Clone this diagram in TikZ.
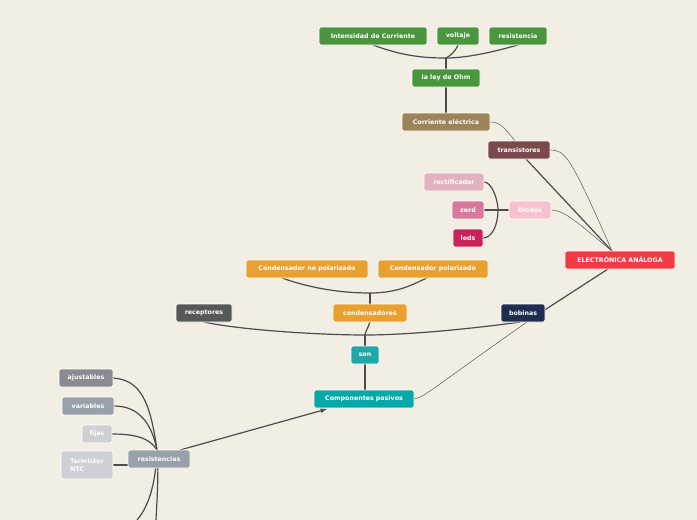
\documentclass[tikz,border=0pt]{standalone}
\usepackage{fontspec}
\setmainfont{DejaVu Sans}
\begin{document}
\begin{tikzpicture}[x=1pt,y=-1pt,
 box/.style={rounded corners=2pt,draw=white,line width=0.8pt,text=white,font=\bfseries\fontsize{6.3}{7.5}\selectfont,minimum height=18pt,inner xsep=3pt,anchor=center},
 ln/.style={draw=black!70,line width=1.2pt},
 tn/.style={draw=black!65,line width=0.5pt}]
\fill[fill={rgb,255:red,243;green,238;blue,227}] (0,0) rectangle (697,520);
\useasboundingbox (0,0) rectangle (697,520);
\definecolor{gr}{RGB}{74,150,62}
\def\B#1#2#3#4#5{\node[box,fill=#4,minimum width=#3] (#1) at #2 {#5};}
\coordinate (j1) at (446,58);
\coordinate (j2) at (498,210);
\coordinate (ea1) at (612,251);
\coordinate (j3) at (370,293);
\coordinate (j4) at (365,335);
\coordinate (jr) at (157,450);
\draw[ln] (373,45) .. controls (400,55) and (420,58) .. (j1) .. controls (470,58) and (500,50) .. (518,45);
\draw[ln] (458,45) .. controls (455,52) and (450,56) .. (j1);
\draw[ln] (j1) -- (446,78);
\draw[ln] (446,78) -- (446,122);
\draw[tn] (490,122) .. controls (500,122) and (505,128) .. (515,141);
\draw[ln] (484,182) .. controls (492,182) and (498,200) .. (j2) .. controls (498,225) and (492,238) .. (483,238);
\draw[ln] (484,210) -- (509,210);
\draw[ln] (526,159) -- (ea1);
\draw[tn] (550,150) .. controls (565,150) and (570,155) .. (ea1);
\draw[tn] (551,210) .. controls (565,210) and (580,225) .. (ea1);
\draw[ln] (540,313) -- (608,269);
\draw[ln] (282,278) .. controls (310,288) and (340,293) .. (j3) .. controls (400,293) and (415,283) .. (427,278);
\draw[ln] (j3) -- (370,313);
\draw[ln] (204,322) .. controls (240,330) and (320,335) .. (j4) .. controls (420,335) and (500,325) .. (520,322);
\draw[ln] (370,322) .. controls (368,328) and (365,332) .. (j4);
\draw[ln] (j4) -- (365,355) -- (365,399);
\draw[tn] (414,399) .. controls (425,397) and (430,390) .. (527,322);
\draw[ln,-latex] (180,450) -- (327,409);
\draw[ln] (113,378) .. controls (140,380) and (150,400) .. (jr);
\draw[ln] (114,406) .. controls (140,406) and (152,425) .. (jr);
\draw[ln] (112,434) .. controls (135,434) and (150,438) .. (jr);
\draw[ln] (113,465) -- (130,465);
\draw[ln] (jr) .. controls (159,470) and (157,500) .. (156,520);
\draw[ln] (jr) .. controls (156,480) and (150,505) .. (137,520);
\B{ic}{(373,36)}{108pt}{gr}{Intensidad de Corriente}
\B{vo}{(458,36)}{42pt}{gr}{voltaje}
\B{re}{(518,36)}{58pt}{gr}{resistencia}
\B{ohm}{(446,78)}{68pt}{gr}{la ley de Ohm}
\B{ce}{(446,122)}{88pt}{{rgb,255:red,156;green,131;blue,88}}{Corriente eléctrica}
\B{tr}{(519,150)}{62pt}{{rgb,255:red,122;green,74;blue,74}}{transistores}
\B{rect}{(454,182)}{60pt}{{rgb,255:red,226;green,178;blue,190}}{rectificador}
\B{ze}{(468,210)}{32pt}{{rgb,255:red,216;green,120;blue,156}}{zerd}
\B{le}{(468,238)}{30pt}{{rgb,255:red,200;green,36;blue,90}}{leds}
\B{di}{(530,210)}{42pt}{{rgb,255:red,246;green,194;blue,207}}{Diodos}
\B{ea}{(620,260)}{110pt}{{rgb,255:red,244;green,58;blue,68}}{ELECTRÓNICA ANÁLOGA}
\B{cnp}{(307,269)}{122pt}{{rgb,255:red,232;green,160;blue,48}}{Condensador no polarizado}
\B{cp}{(433,269)}{110pt}{{rgb,255:red,232;green,160;blue,48}}{Condensador polarizado}
\B{rec}{(204,313)}{56pt}{{rgb,255:red,85;green,87;blue,88}}{receptores}
\B{con}{(370,313)}{74pt}{{rgb,255:red,232;green,160;blue,48}}{condensadores}
\B{bo}{(523,313)}{44pt}{{rgb,255:red,31;green,45;blue,80}}{bobinas}
\B{son}{(365,355)}{28pt}{{rgb,255:red,32;green,168;blue,168}}{son}
\B{cpas}{(364,399)}{100pt}{{rgb,255:red,5;green,168;blue,168}}{Componentes pasivos}
\B{aj}{(86,378)}{54pt}{{rgb,255:red,138;green,138;blue,144}}{ajustables}
\B{va}{(88,406)}{52pt}{{rgb,255:red,152;green,160;blue,170}}{variables}
\B{fi}{(97,434)}{30pt}{{rgb,255:red,208;green,208;blue,212}}{fijas}
\node[box,fill={rgb,255:red,208;green,208;blue,212},minimum width=52pt,minimum height=28pt,align=left] (nt) at (87,465) {Termistor\\NTC};
\B{res}{(159,459)}{62pt}{{rgb,255:red,152;green,160;blue,170}}{resistencias}
\end{tikzpicture}
\end{document}
